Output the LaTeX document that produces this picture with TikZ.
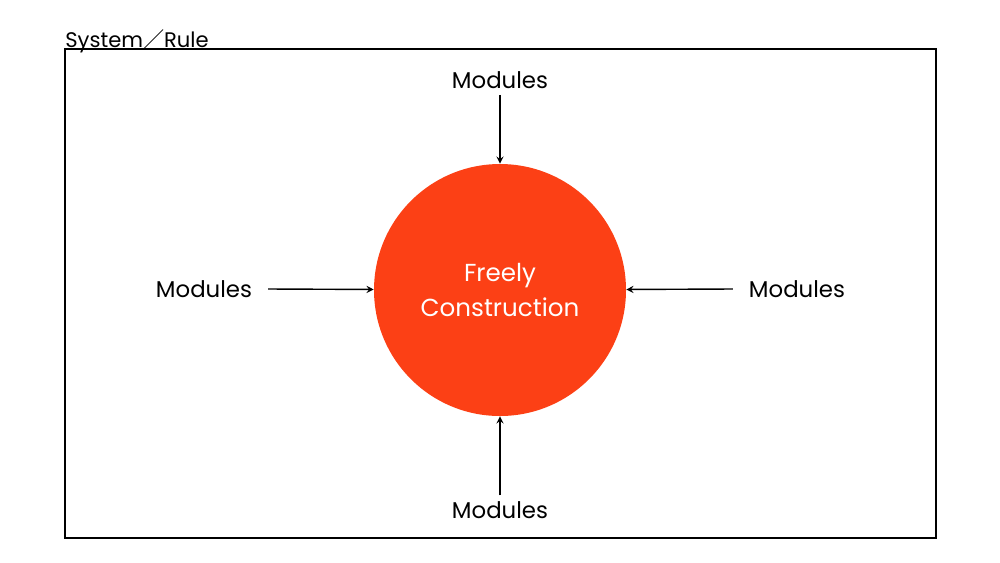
\documentclass[tikz,border=0pt]{standalone}
\usepackage{fontspec}
\setmainfont{Poppins}
\newfontfamily\cjk{Noto Sans CJK SC}
\definecolor{fire}{RGB}{252,64,21}
\begin{document}
\begin{tikzpicture}[x=0.02cm,y=-0.02cm,
  lbl/.style={font=\fontsize{13}{15}\selectfont},
  arr/.style={->,>=stealth,line width=0.8pt}]
\useasboundingbox (0,0) rectangle (1000,562);
\draw[line width=0.8pt] (65,49) rectangle (936,538);
\node[anchor=base west,inner sep=0,font=\fontsize{12}{14}\selectfont] (title) at (65,47) {System{\cjk ／}Rule};
\node[circle,fill=fire,minimum size=252*0.02cm,inner sep=0] (c) at (500,290) {};
\node[text=white,font=\fontsize{14}{16}\selectfont,align=center] (ct) at (500,290) {Freely\\[4pt]Construction};
\node[lbl] (t) at (500,80) {Modules};
\node[lbl] (b) at (500,510) {Modules};
\node[lbl] (l) at (204,289) {Modules};
\node[lbl] (r) at (797,289) {Modules};
\draw[arr] (t) -- (c);
\draw[arr] (b) -- (c);
\draw[arr] (l.east)++(10,0) coordinate (le) (le) -- (c);
\draw[arr] (r.west)++(-10,0) coordinate (re) (re) -- (c);
\end{tikzpicture}
\end{document}
